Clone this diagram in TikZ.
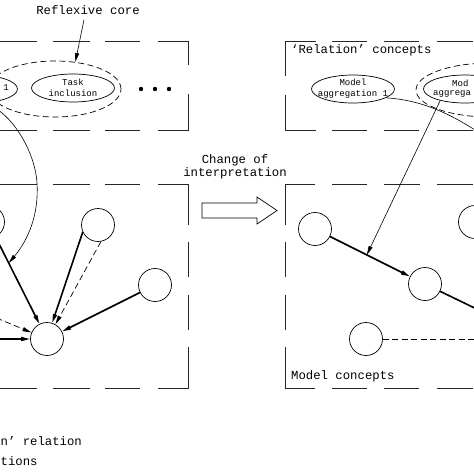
\documentclass[tikz,border=0pt]{standalone}
\usepackage{fontspec}
\setmainfont{Liberation Mono}
\usetikzlibrary{arrows.meta,shapes.geometric}
\begin{document}
\begin{tikzpicture}[x=1pt,y=-1pt,
  boxline/.style={line width=0.8pt, draw=black!85},
  conc/.style={circle, draw, minimum size=33pt, inner sep=0pt, line width=0.7pt},
  oval/.style={ellipse, draw, minimum width=83pt, minimum height=28pt, inner sep=0pt, line width=0.7pt},
  core/.style={ellipse, draw, dash pattern=on 6pt off 3.5pt, line width=0.7pt, inner sep=0pt},
  small/.style={font=\fontsize{9}{11}\selectfont, inner sep=0pt, align=center},
  lbl/.style={font=\fontsize{12.3}{13}\selectfont, inner sep=0pt, align=center},
  tip/.style={-{Triangle[length=9pt,width=4pt]}},
  strong/.style={line width=1.6pt, tip},
  weak/.style={line width=0.7pt, dash pattern=on 6pt off 3.5pt, tip},
  thinarrow/.style={line width=0.6pt, tip}
]
\useasboundingbox (0,0) rectangle (474,474);
\clip (0,0) rectangle (474,474);

% ---- dashed frames ----
% top-left
\draw[boxline] (-10,41) -- (37,41) (53,41) -- (90,41) (105,41) -- (140,41)
  (158,41) -- (188,41) -- (188,65) (188,94) -- (188,130) -- (158,130)
  (140,130) -- (105,130) (90,130) -- (53,130) (37,130) -- (-10,130);
% bottom-left
\draw[boxline] (-10,184) -- (37,184) (53,184) -- (90,184) (105,184) -- (140,184)
  (158,184) -- (188,184) -- (188,225) (188,242) -- (188,277) (188,295) -- (188,330)
  (188,347) -- (188,388) -- (158,388) (140,388) -- (105,388) (90,388) -- (53,388)
  (37,388) -- (-10,388);
% top-right
\draw[boxline] (285,76) -- (285,41) -- (316,41) (332,41) -- (367,41) (384,41) -- (419,41)
  (437,41) -- (473,41) (285,95) -- (285,130) -- (316,130) (332,130) -- (367,130)
  (384,130) -- (419,130) (437,130) -- (473,130);
% bottom-right
\draw[boxline] (285,225) -- (285,184) -- (315,184) (332,184) -- (367,184) (384,184) -- (420,184)
  (437,184) -- (473,184) (285,242) -- (285,277) (285,295) -- (285,330)
  (285,347) -- (285,388) -- (315,388) (332,388) -- (367,388) (384,388) -- (419,388)
  (437,388) -- (473,388);

% ---- top-left content ----
\node[lbl] (rct) at (88,10) {Reflexive core};
\node[core, minimum width=132pt, minimum height=56pt] (rc) at (55,89) {};
\node[oval] (lt) at (-24,89) {};
\node[small] (ltl) at (6,88) {1};
\node[oval] (ti) at (73,88) {};
\node[small] (til) at (ti) {Task\\inclusion};
\fill (141,89) circle[radius=2.2pt] (155,89) circle[radius=2.2pt] (169,89) circle[radius=2.2pt];
\draw[thinarrow] ([xshift=-4pt,yshift=-5pt]rct.south) -- (rc.53);

% ---- bottom-left content ----
\node[conc] (c1) at (-12,222) {};
\node[conc] (c2) at (98,225) {};
\node[conc] (c3) at (155,285) {};
\node[conc] (bot) at (47,339) {};
\coordinate (d1) at (-30,307);
\coordinate (d2) at (-30,339);
\draw[strong] (c1) -- coordinate[pos=0.3] (e1) (bot);
\draw[strong] (c2.205) -- (bot.72);
\draw[weak] (c2.280) -- (bot.60);
\draw[strong] (c3) -- (bot);
\draw[weak] (d1) -- (bot);
\draw[strong] (d2) -- (bot);
\draw[thinarrow] (lt.-60) .. controls (10,110) and (35,150) .. (37,183)
  .. controls (39,215) and (28,240) .. (e1);

% ---- change of interpretation ----
\node[lbl] (chg) at (235,166.5) {Change of\\interpretation};
\draw[line width=0.7pt] (202,203) -- (257,203) -- (257,197) -- (277,210.5)
  -- (257,224) -- (257,218) -- (202,218) -- cycle;

% ---- top-right content ----
\node[lbl, anchor=west] (rel) at (291,50) {‘Relation’ concepts};
\node[oval] (ma1) at (353,89) {};
\node[small] (ma1l) at (ma1) {Model\\aggregation 1};
\node[oval] (ma2) at (465,89) {};
\node[small, anchor=west] (ma2a) at (452,83) {Mod};
\node[small, anchor=west] (ma2b) at (433,94) {aggrega};
\node[core, minimum width=148pt, minimum height=54pt] (rc2) at (490,90) {};
\coordinate (far1) at (490,140);
\draw[line width=0.6pt] (ma1.-15) .. controls (420,100) and (450,112) .. (far1);

% ---- bottom-right content ----
\node[conc] (A) at (315,229) {};
\node[conc] (B) at (425,284) {};
\node[conc] (C) at (366,339) {};
\node[conc] (D) at (475,222) {};
\coordinate (far2) at (520,330);
\coordinate (far3) at (520,339);
\draw[strong] (A) -- coordinate[pos=0.46] (eAB) (B);
\draw[line width=1.6pt] (B) -- (far2);
\draw[line width=0.7pt, dash pattern=on 6pt off 3.5pt] (C) -- (far3);
\draw[thinarrow] (ma2.205) -- (eAB);
\node[lbl, anchor=west] (mc) at (291,376) {Model concepts};

% ---- legend fragments ----
\node[lbl, anchor=west] (lg1) at (0.5,441) {n' relation};
\node[lbl, anchor=west] (lg2) at (0.5,461) {tions};
\end{tikzpicture}
\end{document}
